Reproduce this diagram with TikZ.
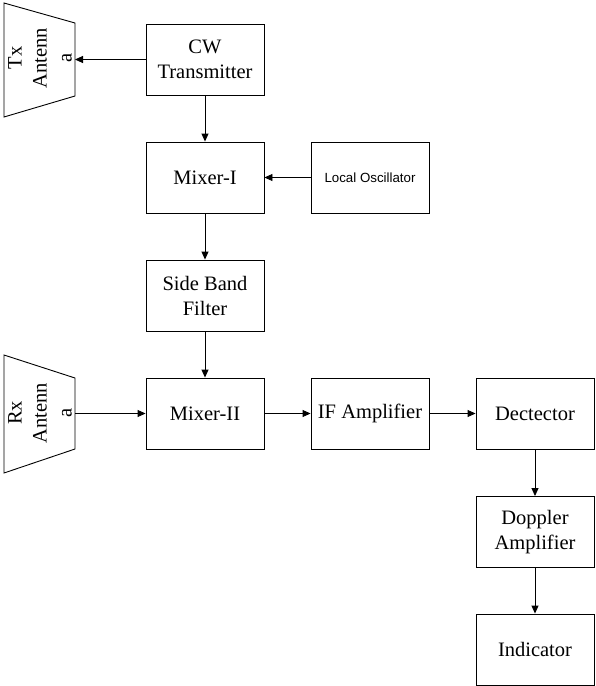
\documentclass[tikz,border=0pt]{standalone}
\usepackage{fontspec}
\setmainfont{Liberation Serif}
\newfontfamily\lofont{Liberation Sans}
\usetikzlibrary{arrows.meta}
\begin{document}
\begin{tikzpicture}[x=1pt,y=-1pt,
  blk/.style={draw,line width=0.9pt,minimum width=118pt,minimum height=71pt,inner sep=0pt,align=center,font=\fontsize{20.5}{25}\selectfont},
  conn/.style={line width=0.9pt,-{Triangle[length=8pt,width=7pt]}},
  ant/.style={draw,line width=0.9pt},
  anttxt/.style={rotate=90,align=center,inner sep=0pt,font=\fontsize{20.5}{25}\selectfont}]
\useasboundingbox (0,0) rectangle (595,686);
\node[blk] (cw) at (205,59.5) {CW\\Transmitter};
\node[blk] (m1) at (205,177.5) {Mixer-I};
\node[blk] (lo) at (370,177.5) {\lofont\fontsize{13.3}{16}\selectfont Local Oscillator};
\node[blk] (sbf) at (205,295.5) {Side Band\\Filter};
\node[blk] (m2) at (205,413.5) {Mixer-II};
\node[blk] (if) at (370,413.5) {IF Amplifier};
\node[blk] (det) at (535,413.5) {Dectector};
\node[blk] (dop) at (535,532) {Doppler\\Amplifier};
\node[blk] (ind) at (535,649.5) {Indicator};
% antennas
\draw[ant] (4,3) -- (75,23) -- (75,96) -- (4,117) -- cycle;
\coordinate (tx) at (75,59.5);
\node[anttxt] (txt) at (40,58) {Tx\\Antenn\\a};
\draw[ant] (4,355) -- (75,378) -- (75,449) -- (4,473) -- cycle;
\coordinate (rx) at (75,413.5);
\node[anttxt] (rxt) at (40,413) {Rx\\Antenn\\a};
% connectors
\draw[conn] (cw.west) -- (tx);
\draw[conn] (cw) -- (m1);
\draw[conn] (lo) -- (m1);
\draw[conn] (m1) -- (sbf);
\draw[conn] (sbf) -- (m2);
\draw[conn] (rx) -- (m2.west);
\draw[conn] (m2) -- (if);
\draw[conn] (if) -- (det);
\draw[conn] (det) -- (dop);
\draw[conn] (dop) -- (ind);
\end{tikzpicture}
\end{document}
